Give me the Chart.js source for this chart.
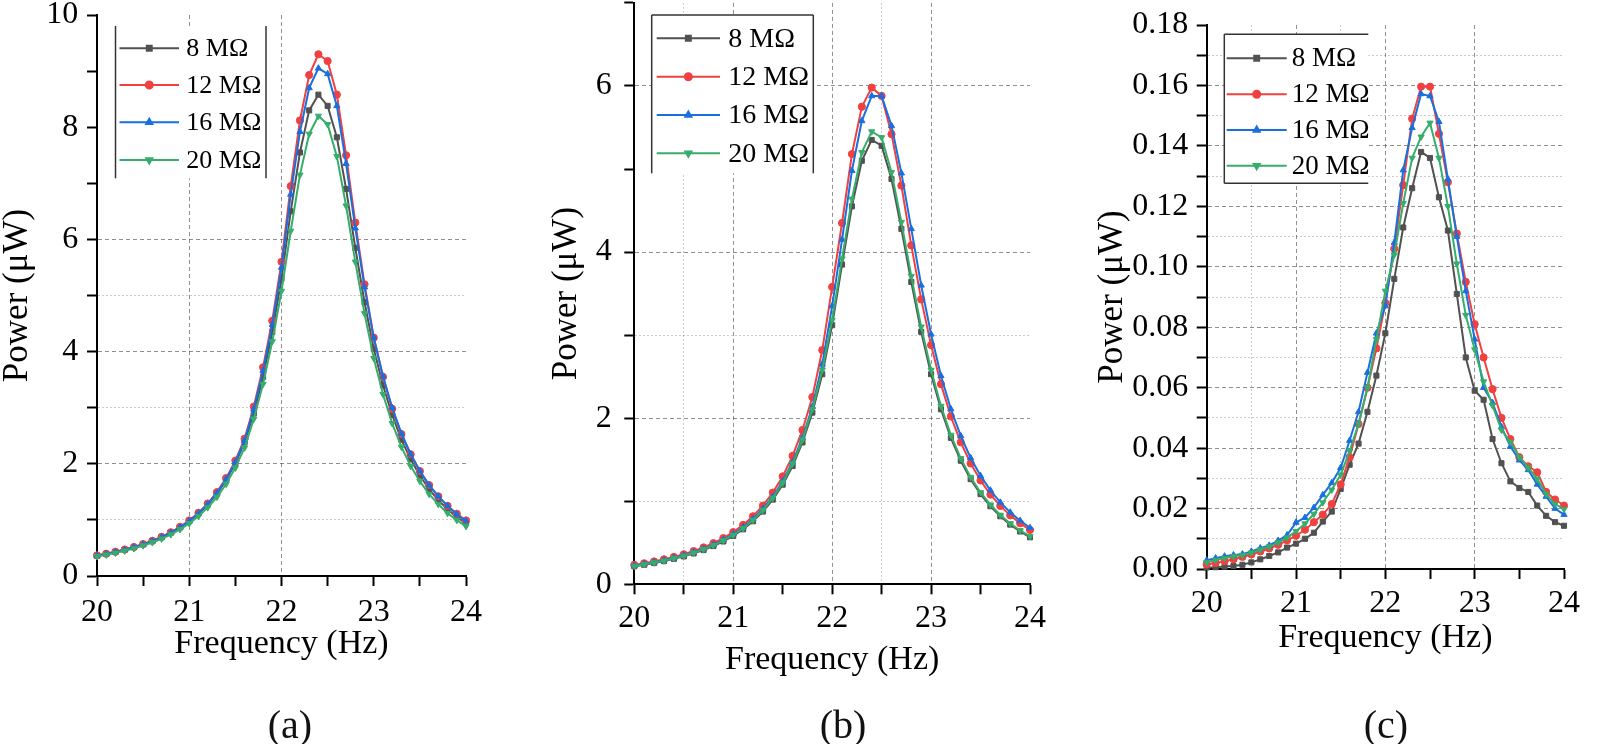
<!DOCTYPE html>
<html>
<head>
<meta charset="utf-8">
<script src="https://cdn.jsdelivr.net/npm/chart.js@4.4.0/dist/chart.umd.min.js"></script>
<style>
  html, body { margin: 0; padding: 0; background: #fff; }
  #wrap { position: relative; width: 1600px; height: 744px; overflow: hidden; background: #fff; }
  canvas { position: absolute; top: 0; }
  .cap { position: absolute; top: 703px; width: 80px; margin-left: -40px; text-align: center;
         font-family: 'Liberation Serif', 'Times New Roman', serif; font-size: 40px; line-height: 44px; color: #111; }
</style>
</head>
<body>
<div id="wrap">
  <canvas id="chartA" width="545" height="744" style="left:0px"></canvas>
  <canvas id="chartB" width="530" height="744" style="left:545px"></canvas>
  <canvas id="chartC" width="525" height="744" style="left:1075px"></canvas>
  <div class="cap" style="left:290px">(a)</div>
  <div class="cap" style="left:843px">(b)</div>
  <div class="cap" style="left:1386px">(c)</div>
</div>
<script>
// frequency sweep shared by all three panels (Hz)
const freq = [20.0, 20.1, 20.2, 20.3, 20.4, 20.5, 20.6, 20.7, 20.8, 20.9,
              21.0, 21.1, 21.2, 21.3, 21.4, 21.5, 21.6, 21.7, 21.8, 21.9,
              22.0, 22.1, 22.2, 22.3, 22.4, 22.5, 22.6, 22.7, 22.8, 22.9,
              23.0, 23.1, 23.2, 23.3, 23.4, 23.5, 23.6, 23.7, 23.8, 23.9, 24.0];
const seriesNames = ['8 MΩ', '12 MΩ', '16 MΩ', '20 MΩ'];

// panel (a), power in uW
const powerA8  = [0.364, 0.394, 0.429, 0.468, 0.512, 0.564, 0.622, 0.691, 0.771, 0.865,
                  0.977, 1.111, 1.272, 1.468, 1.710, 2.010, 2.385, 2.90, 3.55, 4.35,
                  5.30, 6.50, 7.55, 8.30, 8.58, 8.38, 7.82, 6.90, 5.85, 4.88,
                  4.05, 3.40, 2.87, 2.43, 2.08, 1.79, 1.55, 1.35, 1.19, 1.05, 0.94];
const powerA12 = [0.366, 0.397, 0.432, 0.472, 0.517, 0.569, 0.628, 0.698, 0.780, 0.876,
                  0.990, 1.126, 1.292, 1.495, 1.745, 2.057, 2.447, 3.02, 3.72, 4.55,
                  5.60, 6.95, 8.12, 8.93, 9.30, 9.18, 8.58, 7.50, 6.30, 5.20,
                  4.25, 3.55, 2.98, 2.53, 2.17, 1.87, 1.62, 1.42, 1.25, 1.11, 0.99];
const powerA16 = [0.363, 0.394, 0.429, 0.468, 0.513, 0.564, 0.623, 0.692, 0.773, 0.868,
                  0.981, 1.116, 1.280, 1.479, 1.725, 2.031, 2.416, 2.98, 3.66, 4.48,
                  5.50, 6.80, 7.92, 8.70, 9.05, 8.95, 8.38, 7.35, 6.20, 5.15,
                  4.25, 3.56, 3.00, 2.54, 2.17, 1.87, 1.62, 1.42, 1.25, 1.10, 0.98];
const powerA20 = [0.349, 0.378, 0.411, 0.449, 0.491, 0.541, 0.597, 0.663, 0.739, 0.830,
                  0.937, 1.065, 1.220, 1.408, 1.640, 1.928, 2.287, 2.80, 3.42, 4.18,
                  5.08, 6.15, 7.15, 7.88, 8.20, 8.05, 7.48, 6.60, 5.60, 4.68,
                  3.88, 3.24, 2.72, 2.30, 1.96, 1.69, 1.46, 1.28, 1.12, 0.995, 0.886];

// panel (b)
const powerB8  = [0.217, 0.235, 0.256, 0.279, 0.306, 0.336, 0.372, 0.412, 0.460, 0.516,
                  0.583, 0.662, 0.759, 0.876, 1.020, 1.200, 1.424, 1.708, 2.067, 2.53,
                  3.12, 3.85, 4.55, 5.10, 5.35, 5.28, 4.88, 4.28, 3.64, 3.04,
                  2.53, 2.107, 1.764, 1.488, 1.266, 1.086, 0.940, 0.819, 0.719, 0.636, 0.566];
const powerB12 = [0.234, 0.253, 0.275, 0.301, 0.329, 0.362, 0.400, 0.444, 0.495, 0.556,
                  0.628, 0.715, 0.819, 0.947, 1.104, 1.299, 1.546, 1.858, 2.254, 2.82,
                  3.58, 4.35, 5.18, 5.75, 5.98, 5.88, 5.42, 4.80, 4.08, 3.43,
                  2.88, 2.41, 2.02, 1.71, 1.455, 1.25, 1.08, 0.944, 0.83, 0.734, 0.654];
const powerB16 = [0.227, 0.246, 0.267, 0.291, 0.319, 0.350, 0.387, 0.429, 0.478, 0.536,
                  0.605, 0.687, 0.786, 0.907, 1.055, 1.240, 1.472, 1.765, 2.138, 2.65,
                  3.35, 4.15, 4.98, 5.58, 5.88, 5.88, 5.52, 4.95, 4.28, 3.60,
                  3.01, 2.51, 2.11, 1.786, 1.521, 1.306, 1.131, 0.986, 0.866, 0.766, 0.681];
const powerB20 = [0.221, 0.239, 0.261, 0.284, 0.312, 0.342, 0.379, 0.420, 0.469, 0.526,
                  0.594, 0.674, 0.773, 0.892, 1.039, 1.222, 1.451, 1.740, 2.106, 2.58,
                  3.18, 3.92, 4.64, 5.20, 5.45, 5.38, 4.96, 4.36, 3.71, 3.10,
                  2.58, 2.146, 1.797, 1.516, 1.290, 1.106, 0.958, 0.834, 0.732, 0.648, 0.577];

// panel (c)
const powerC8  = [0.0005, 0.0006, 0.0008, 0.0010, 0.0014, 0.0022, 0.0032, 0.0043, 0.0055, 0.0071,
                  0.0084, 0.0100, 0.0120, 0.0157, 0.0190, 0.0265, 0.0345, 0.0415, 0.0520, 0.0640,
                  0.0780, 0.0960, 0.1130, 0.1260, 0.1380, 0.1360, 0.1230, 0.1120, 0.0910, 0.0700,
                  0.0590, 0.0560, 0.0430, 0.0350, 0.0290, 0.0268, 0.0255, 0.0210, 0.0176, 0.0155, 0.0143];
const powerC12 = [0.0015, 0.0020, 0.0026, 0.0032, 0.0040, 0.0048, 0.0058, 0.0068, 0.0080, 0.0095,
                  0.0110, 0.0130, 0.0155, 0.0180, 0.0215, 0.0280, 0.0370, 0.0480, 0.0600, 0.0730,
                  0.0880, 0.1060, 0.1270, 0.1490, 0.1596, 0.1596, 0.1440, 0.1280, 0.1110, 0.0950,
                  0.0810, 0.0700, 0.0595, 0.0500, 0.0430, 0.0370, 0.0340, 0.0320, 0.0255, 0.0230, 0.0210];
const powerC16 = [0.0029, 0.0036, 0.0042, 0.0046, 0.0049, 0.0058, 0.0069, 0.0078, 0.0094, 0.0112,
                  0.0154, 0.0170, 0.0203, 0.0245, 0.0285, 0.0335, 0.0425, 0.0520, 0.0650, 0.0780,
                  0.0870, 0.1080, 0.1320, 0.1460, 0.1572, 0.1565, 0.1480, 0.1290, 0.1100, 0.0920,
                  0.0760, 0.0600, 0.0550, 0.0470, 0.0405, 0.0360, 0.0328, 0.0280, 0.0240, 0.0200, 0.0180];
const powerC20 = [0.0022, 0.0030, 0.0036, 0.0042, 0.0046, 0.0054, 0.0064, 0.0074, 0.0088, 0.0104,
                  0.0125, 0.0150, 0.0182, 0.0220, 0.0262, 0.0312, 0.0390, 0.0480, 0.0600, 0.0760,
                  0.0920, 0.1040, 0.1210, 0.1360, 0.1430, 0.1476, 0.1360, 0.1200, 0.1010, 0.0840,
                  0.0726, 0.0620, 0.0541, 0.0460, 0.0420, 0.0370, 0.0335, 0.0298, 0.0248, 0.0215, 0.0198];

// tick labels
const xTickLabels = [20, 21, 22, 23, 24];
const yTickLabelsA = [0, 2, 4, 6, 8, 10];
const yTickLabelsB = [0, 2, 4, 6];
const yTickLabelsC = [0, 0.02, 0.04, 0.06, 0.08, 0.10, 0.12, 0.14, 0.16, 0.18];

const colors = ['#515151', '#F14040', '#1A6FDF', '#37AD6B'];
const markers = ['rect', 'circle', 'triangle', 'triangle'];
const markerTurn = [0, 0, 0, 180];
const serif = "'Liberation Serif', 'Times New Roman', serif";

Chart.defaults.color = '#000';

const has = (list, v) => list.some(t => Math.abs(t - v) < 1e-9);

function gridColor(major, minor) {
  return ctx => {
    if (!ctx.tick) return 'rgba(0,0,0,0)';
    const v = ctx.tick.value;
    if (has(major, v)) return 'rgba(70,70,70,0.6)';
    if (has(minor, v)) return 'rgba(70,70,70,0.28)';
    return 'rgba(0,0,0,0)';
  };
}
function gridDash(major) {
  return ctx => (ctx.tick && has(major, ctx.tick.value)) ? [4, 3] : [2, 2];
}

function buildDatasets(values) {
  return values.map((ys, i) => ({
    label: seriesNames[i],
    data: freq.map((f, j) => ({ x: f, y: ys[j] })),
    borderColor: colors[i],
    backgroundColor: colors[i],
    borderWidth: 2,
    pointStyle: markers[i],
    pointRotation: markerTurn[i],
    pointRadius: 3.6,
    pointBorderWidth: 1,
    tension: 0,
    clip: false,
    order: 3 - i
  }));
}

// legend box drawn inside the plot, line sample + marker + name
function makeLegend(lg) {
  return {
    id: 'boxLegend',
    afterDatasetsDraw(chart) {
      const ctx = chart.ctx;
      const b = lg.box;
      ctx.save();
      ctx.fillStyle = '#fff';
      ctx.fillRect(b.left, b.top, b.right - b.left, b.bottom - b.top);
      ctx.strokeStyle = '#333';
      ctx.lineWidth = 1.5;
      const sides = {
        left: [b.left, b.top, b.left, b.bottom],
        right: [b.right, b.top, b.right, b.bottom],
        top: [b.left, b.top, b.right, b.top],
        bottom: [b.left, b.bottom, b.right, b.bottom]
      };
      lg.sides.forEach(s => {
        const p = sides[s];
        ctx.beginPath(); ctx.moveTo(p[0], p[1]); ctx.lineTo(p[2], p[3]); ctx.stroke();
      });
      chart.data.datasets.forEach((ds, i) => {
        const y = lg.rows[i];
        ctx.strokeStyle = ds.borderColor;
        ctx.lineWidth = 2;
        ctx.beginPath(); ctx.moveTo(lg.line[0], y); ctx.lineTo(lg.line[1], y); ctx.stroke();
        ctx.fillStyle = ds.backgroundColor;
        Chart.helpers.drawPoint(ctx, { pointStyle: ds.pointStyle, rotation: ds.pointRotation, radius: 3.5, borderWidth: 1 },
          (lg.line[0] + lg.line[1]) / 2, y);
        ctx.fillStyle = '#000';
        ctx.font = lg.fontSize + 'px ' + serif;
        ctx.textAlign = 'left';
        ctx.textBaseline = 'middle';
        ctx.fillText(ds.label, lg.textX, y + 1);
      });
      ctx.restore();
    }
  };
}

function drawPanel(id, p) {
  new Chart(document.getElementById(id), {
    type: 'line',
    data: { datasets: buildDatasets(p.series) },
    options: {
      responsive: false,
      animation: false,
      devicePixelRatio: 1,
      layout: { autoPadding: false, padding: { left: 0, top: p.top, right: p.right, bottom: 0 } },
      plugins: { legend: { display: false }, tooltip: { enabled: false } },
      scales: {
        x: {
          type: 'linear', min: 20, max: 24,
          afterFit: s => { s.height = p.xHeight; s.paddingLeft = 0; s.paddingRight = 0; },
          ticks: {
            stepSize: 0.5, autoSkip: false, maxRotation: 0, minRotation: 0, padding: p.xTickPad,
            font: { family: serif, size: 32, lineHeight: 1 },
            callback: v => has(xTickLabels, v) ? String(v) : ''
          },
          grid: { color: gridColor(p.xMajor, p.xMinor), lineWidth: 1, tickColor: '#000', tickLength: 10, tickWidth: 2 },
          border: { color: '#000', width: 2, dash: gridDash(p.xMajor) },
          title: { display: true, text: 'Frequency (Hz)', font: { family: serif, size: 34, lineHeight: 1 },
                   padding: { top: 0, bottom: p.xTitlePad } }
        },
        y: {
          type: 'linear', min: 0, max: p.yMax,
          afterFit: s => { s.width = p.yWidth; s.paddingTop = 0; s.paddingBottom = 0; },
          ticks: {
            stepSize: p.yStep, autoSkip: false, padding: p.yTickPad,
            font: { family: serif, size: 32, lineHeight: 1 },
            callback: v => has(p.yLabels, v) ? v.toFixed(p.yDigits) : ''
          },
          grid: { color: gridColor(p.yMajor, p.yMinor), lineWidth: 1, tickColor: '#000', tickLength: 10, tickWidth: 2 },
          border: { color: '#000', width: 2, dash: gridDash(p.yMajor) },
          title: { display: true, text: 'Power (μW)', font: { family: serif, size: 35, lineHeight: 1 },
                   padding: { top: p.yTitlePad, bottom: 0 } }
        }
      }
    },
    plugins: [makeLegend(p.legend)]
  });
}

drawPanel('chartA', {
  series: [powerA8, powerA12, powerA16, powerA20],
  top: 15, right: 79, yWidth: 97, xHeight: 168,
  yMax: 10, yStep: 1, yLabels: yTickLabelsA, yDigits: 0,
  yTickPad: 8.7, xTickPad: 11, xTitlePad: 83, yTitlePad: 0.8,
  yMajor: [2, 4, 6], yMinor: [1, 3, 5], xMajor: [21, 22], xMinor: [],
  legend: { box: { left: 115.5, top: 26, right: 266, bottom: 178.3 }, rows: [48.3, 85, 122.3, 160],
            line: [119.5, 179], textX: 186.3, fontSize: 26, sides: ['left', 'right'] }
});

drawPanel('chartB', {
  series: [powerB8, powerB12, powerB16, powerB20],
  top: 2.9, right: 45, yWidth: 89.3, xHeight: 159.7,
  yMax: 7, yStep: 1, yLabels: yTickLabelsB, yDigits: 0,
  yTickPad: 12.6, xTickPad: 8, xTitlePad: 67, yTitlePad: 4.2,
  yMajor: [2, 4, 6], yMinor: [1, 3], xMajor: [21, 22, 23], xMinor: [20.5, 22.5],
  legend: { box: { left: 106.7, top: 15, right: 268.3, bottom: 173.3 }, rows: [38.3, 76.7, 115, 153.3],
            line: [111.7, 175], textX: 183.3, fontSize: 28, sides: ['left', 'top', 'right'] }
});

drawPanel('chartC', {
  series: [powerC8, powerC12, powerC16, powerC20],
  top: 25, right: 36, yWidth: 131.7, xHeight: 175,
  yMax: 0.18, yStep: 0.01, yLabels: yTickLabelsC, yDigits: 2,
  yTickPad: 8.4, xTickPad: 8.3, xTitlePad: 88.7, yTitlePad: 20.8,
  yMajor: [0.02, 0.04, 0.06, 0.08, 0.10, 0.12, 0.14, 0.16],
  yMinor: [0.01, 0.03, 0.05, 0.07, 0.09, 0.11, 0.13, 0.15, 0.17],
  xMajor: [21, 22, 23], xMinor: [20.5, 21.5],
  legend: { box: { left: 149.3, top: 34.3, right: 293.3, bottom: 183.3 }, rows: [58.3, 94.3, 130, 165.7],
            line: [151.7, 211.7], textX: 216.7, fontSize: 27, sides: ['left', 'bottom', 'top'] }
});
</script>
</body>
</html>
